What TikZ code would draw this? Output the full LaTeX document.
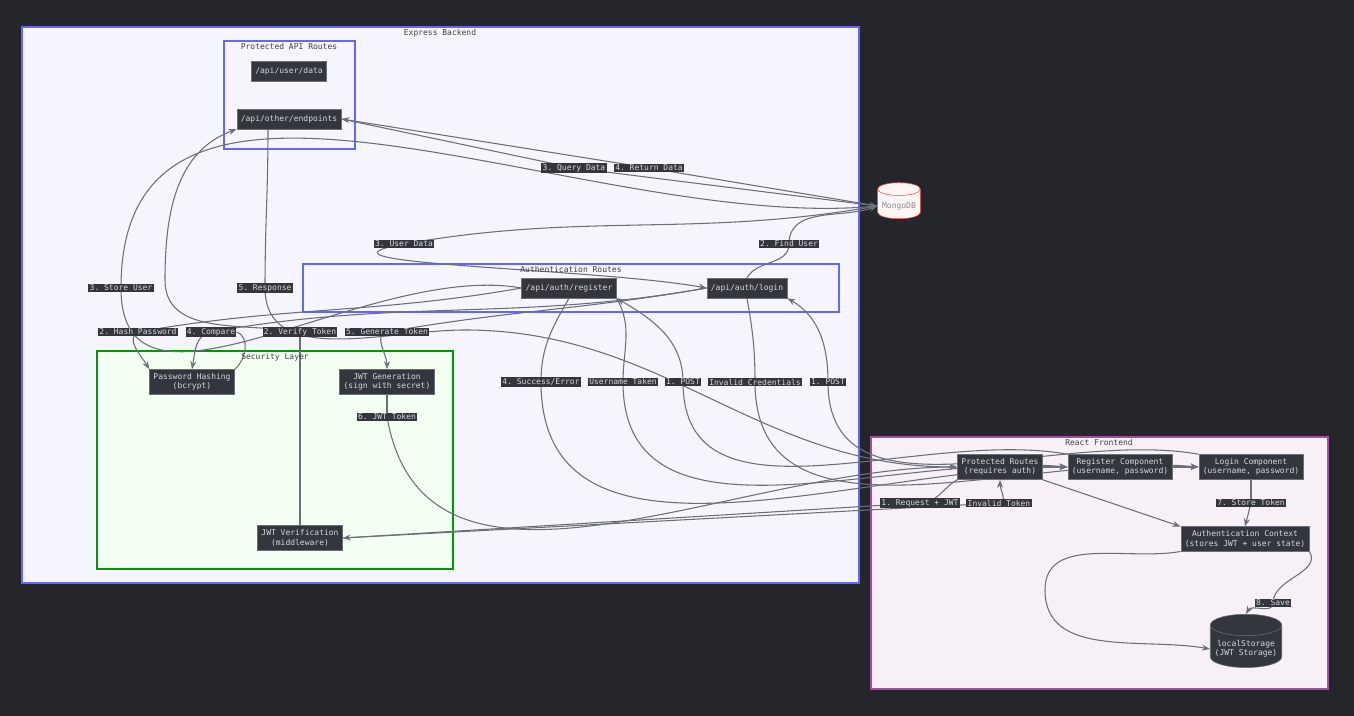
\documentclass[tikz,border=0pt]{standalone}
\usepackage{fontspec}
\setmonofont{DejaVu Sans Mono}
\usetikzlibrary{arrows.meta,shapes.geometric,positioning}
\definecolor{pagebg}{HTML}{25262C}
\definecolor{boxfill}{HTML}{33363D}
\definecolor{boxtext}{HTML}{D6D8DE}
\definecolor{wire}{HTML}{6B6F7A}
\pgfdeclarelayer{clusters}
\pgfdeclarelayer{wires}
\pgfsetlayers{clusters,wires,main}
\begin{document}
\begin{tikzpicture}[
  x=0.75pt, y=-0.75pt,
  font=\ttfamily\fontsize{6}{7}\selectfont,
  comp/.style={draw=wire, fill=boxfill, text=boxtext, align=center, inner sep=3pt, minimum height=15pt},
  db/.style={cylinder, shape border rotate=90, aspect=0.3, draw=wire, fill=boxfill, text=boxtext, align=center},
  lbl/.style={fill=boxfill, text=boxtext, inner sep=1pt},
  cluster/.style={draw=#1, line width=0.8pt},
  ctitle/.style={text=black!75},
  link/.style={draw=wire, line width=0.8pt, -{Stealth[length=6pt]}},
  plain/.style={draw=wire, line width=0.8pt}
]
\useasboundingbox (0,0) rectangle (1354,716);

% clusters
\begin{pgfonlayer}{clusters}
\fill[pagebg] (0,0) rectangle (1354,716);
\draw[cluster=blue!60, fill=blue!4] (22,27) rectangle (859,583);
\draw[cluster=blue!60, fill=blue!4] (224,41) rectangle (355,149);
\draw[cluster=blue!60, fill=blue!4] (303,264) rectangle (839,312);
\draw[cluster=green!60!black, fill=green!5] (97,351) rectangle (453,569);
\draw[cluster=violet!70, fill=violet!6] (871,437) rectangle (1328,689);
\end{pgfonlayer}
\node[ctitle] (tBackend) at (440,33) {Express Backend};
\node[ctitle] (tApi) at (289,47) {Protected API Routes};
\node[ctitle] (tAuth) at (571,270) {Authentication Routes};
\node[ctitle] (tSec) at (275,357) {Security Layer};
\node[ctitle] (tFront) at (1099,443) {React Frontend};

% components
\node[comp] (userData) at (289,71) {/api/user/data};
\node[comp] (otherEp) at (289,119) {/api/other/endpoints};
\node[db, fill=red!4, draw=red!70, text=black!45, minimum width=30pt, minimum height=27pt] (mongo) at (899,206) {MongoDB};
\node[comp] (register) at (569,288) {/api/auth/register};
\node[comp] (login) at (747,288) {/api/auth/login};
\node[comp] (hashing) at (192,382) {Password Hashing\\(bcrypt)};
\node[comp] (jwtGen) at (387,382) {JWT Generation\\(sign with secret)};
\node[comp] (jwtVer) at (300,538) {JWT Verification\\(middleware)};
\node[comp] (protRoutes) at (1000,467) {Protected Routes\\(requires auth)};
\node[comp] (regComp) at (1120,467) {Register Component\\(username, password)};
\node[comp] (loginComp) at (1251,467) {Login Component\\(username, password)};
\node[comp] (authCtx) at (1245,539) {Authentication Context\\(stores JWT + user state)};
\node[db, minimum width=52pt, minimum height=38pt] (storage) at (1246,649) {localStorage\\(JWT Storage)};

% labels
\node[lbl] (lQuery) at (574,168) {3. Query Data};
\node[lbl] (lReturn) at (649,168) {4. Return Data};
\node[lbl] (lFind) at (789,244) {2. Find User};
\node[lbl] (lUserData) at (404,244) {3. User Data};
\node[lbl] (lStore) at (121,288) {3. Store User};
\node[lbl] (lResp) at (265,288) {5. Response};
\node[lbl] (lHash) at (138,332) {2. Hash Password};
\node[lbl] (lCompare) at (211,332) {4. Compare};
\node[lbl] (lVerify) at (300,332) {2. Verify Token};
\node[lbl] (lGen) at (387,332) {5. Generate Token};
\node[lbl] (lJwt) at (387,417) {6. JWT Token};
\node[lbl] (lSucc) at (541,382) {4. Success/Error};
\node[lbl] (lTaken) at (623,382) {Username Taken};
\node[lbl] (lPost1) at (683,382) {1. POST};
\node[lbl] (lInvalid) at (755,382) {Invalid Credentials};
\node[lbl] (lPost2) at (828,382) {1. POST};
\node[lbl] (lReq) at (920,503) {1. Request + JWT};
\node[lbl] (lInvTok) at (999,503) {Invalid Token};
\node[lbl] (lStoreTok) at (1251,503) {7. Store Token};
\node[lbl] (lSave) at (1273,603) {8. Save};

% connectors
\begin{pgfonlayer}{wires}
\draw[plain] (otherEp.east) -- (lQuery.center);
\draw[link] (lQuery.center) -- (mongo.west);
\draw[plain] (mongo.west) -- (lReturn.center);
\draw[link] (lReturn.center) -- (otherEp.east);
\draw[plain] (login.north) to[out=60,in=-90] (lFind.center);
\draw[link] (lFind.center) to[out=90,in=200] (mongo.west);
\draw[plain] (mongo.west) to[out=190,in=10] (lUserData.center);
\draw[link] (lUserData.center) to[out=-170,in=170] (login.west);
\draw[plain] (register.west) to[out=170,in=-90] (lStore.center);
\draw[link] (lStore.center) to[out=90,in=185] (mongo.west);
\draw[plain] (otherEp.south -| 268,149) to[out=-90,in=90] (lResp.center);
\draw[link] (lResp.center) to[out=-90,in=180] (465,330) to[out=0,in=180] (protRoutes.west);
\draw[plain] (register.west) to[out=190,in=10] (lHash.center);
\draw[link] (lHash.center) to[out=-150,in=120] (hashing.north west);
\draw[plain] (login.west) to[out=190,in=10] (lCompare.center);
\draw[link] (lCompare.center) to[out=-170,in=80] (hashing.north);
\draw[plain] (hashing.north east) to[out=40,in=-20] (lCompare.east);
\draw[plain] (jwtVer.north) -- (lVerify.center);
\draw[link] (lVerify.center) to[out=170,in=-90] (165,280) to[out=90,in=200] (otherEp.south west);
\draw[plain] (login.west) to[out=190,in=10] (lGen.center);
\draw[link] (lGen.center) to[out=-170,in=90] (jwtGen.north);
\draw[plain] (jwtGen.south) -- (lJwt.center);
\draw[link] (lJwt.center) to[out=-80,in=180] (protRoutes.west);
\draw[plain] (register.south) to[out=-120,in=90] (lSucc.center);
\draw[link] (lSucc.center) to[out=-90,in=180] (regComp.west);
\draw[plain] (register.south east) to[out=-60,in=90] (lTaken.center);
\draw[link] (lTaken.center) to[out=-90,in=175] (regComp.west);
\draw[plain] (regComp.north west) to[out=170,in=-90] (lPost1.center);
\draw[link] (lPost1.center) to[out=90,in=-30] (register.south east);
\draw[plain] (login.south) to[out=-80,in=90] (lInvalid.center);
\draw[link] (lInvalid.center) to[out=-90,in=175] (loginComp.west);
\draw[plain] (loginComp.north west) to[out=170,in=-90] (lPost2.center);
\draw[link] (lPost2.center) to[out=90,in=-30] (login.south east);
\draw[plain] (protRoutes.south west) to[out=-150,in=0] (lReq.center);
\draw[link] (lReq.center) -- (jwtVer.east);
\draw[plain] (jwtVer.east) -- (lInvTok.center);
\draw[link] (lInvTok.center) to[out=0,in=-90] (protRoutes.south);
\draw[link] (protRoutes.east) -- (regComp.west);
\draw[link] (regComp.east) -- (loginComp.west);
\draw[link] (protRoutes.south east) -- (authCtx.north west);
\draw[plain] (loginComp.south) -- (lStoreTok.center);
\draw[link] (lStoreTok.center) -- (authCtx.north);
\draw[plain] (authCtx.south east) to[out=-60,in=90] (lSave.center);
\draw[link] (lSave.center) to[out=-90,in=60] (storage.north);
\draw[link] (authCtx.south west) to[out=190,in=90] (1045,590) to[out=-90,in=170] (storage.west);
\end{pgfonlayer}
\end{tikzpicture}
\end{document}
